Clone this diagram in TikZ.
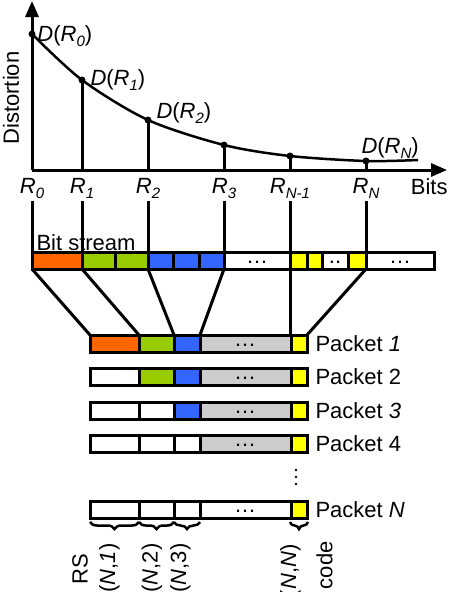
\documentclass[tikz,border=0pt]{standalone}
\usepackage{fontspec}
\setmainfont{Liberation Sans}
\usetikzlibrary{arrows.meta,decorations.pathreplacing}
\definecolor{segorange}{RGB}{255,102,0}
\definecolor{seggreen}{RGB}{153,204,0}
\definecolor{segblue}{RGB}{51,102,255}
\definecolor{segyellow}{RGB}{255,255,0}
\definecolor{seggray}{RGB}{204,204,204}
\newcommand{\Rsub}[1]{\textit{R}\raisebox{-5pt}{\fontsize{15}{15}\selectfont\textit{#1}}}
\newcommand{\Dof}[1]{\textit{D}(\Rsub{#1})}
\tikzset{
  cell/.style={draw=black,line width=3pt},
  axis/.style={line width=3pt,-{Triangle[length=16pt,width=13pt]}},
  lbl/.style={inner sep=0pt},
  rs/.style={rotate=90,anchor=east,inner sep=0pt},
  brc/.style={decorate,decoration={brace,mirror,amplitude=7pt},line width=2.5pt}
}
\begin{document}
\begin{tikzpicture}[x=1pt,y=-1pt,line width=3pt,font=\fontsize{22}{26}\selectfont]
	\useasboundingbox (0,0) rectangle (450,592);
	% rate-distortion curve
	\draw[axis] (32,170) -- (32,1);
	\draw[axis] (32,170) -- (447,170);
	\node[lbl,rotate=90] (ylab) at (11,98) {Distortion};
	\node[lbl,anchor=north east] (xlab) at (449,177) {Bits};
	\foreach \n/\x/\y/\s in {0/32/34/0,1/82/80/1,2/148/120/2,3/224/145/3,4/290/156/N-1,5/366/161/N}{
		\coordinate (D\n) at (\x,\y);
		\coordinate (R\n) at (\x,170);
		\node[lbl,anchor=north] (r\n) at (\x,177) {\Rsub{\s}};
	}
	\draw[line width=2.5pt] plot[smooth] coordinates {(D0) (D1) (D2) (D3) (D4) (D5) (418,160)};
	\foreach \n in {1,...,5} \draw (D\n) -- (R\n);
	\foreach \n in {0,...,5} \fill (D\n) circle (3.5pt);
	\node[lbl,anchor=west] (d0) at (36,36) {\Dof{0}};
	\node[lbl,anchor=west] (d1) at (89,80) {\Dof{1}};
	\node[lbl,anchor=west] (d2) at (155,113) {\Dof{2}};
	\node[lbl,anchor=west] (dN) at (360,148) {\Dof{N}};
	% bit stream
	\node[lbl,anchor=base west] (bits) at (35,250) {Bit stream};
	\foreach \x in {32,82,148,224,366} \draw (\x,201) -- (\x,252);
	\draw (290,201) -- (290,335);
	\foreach \a/\b/\c in {32/82/segorange,82/115/seggreen,115/148/seggreen,148/173/segblue,173/199/segblue,199/224/segblue,224/290/white,290/307/segyellow,307/322/segyellow,322/348/white,348/366/segyellow,366/434/white}
		\draw[cell,fill=\c] (\a,252) rectangle (\b,269);
	\node[lbl,anchor=base] at (257,263) {\dots};
	\node[lbl,anchor=base] at (335,263) {..};
	\node[lbl,anchor=base] at (400,263) {\dots};
	% split into packets
	\foreach \a/\b in {32/90,82/139,148/174,224/200,366/307} \draw (\a,269) -- (\b,335);
	\foreach \y/\ca/\cb/\cc/\cd/\lab in {335/segorange/seggreen/segblue/seggray/{Packet \textit{1}},
			368/white/seggreen/segblue/seggray/{Packet 2},
			402/white/white/segblue/seggray/{Packet \textit{3}},
			435/white/white/white/seggray/{Packet 4},
			501/white/white/white/white/{Packet \textit{N}}}{
		\draw[cell,fill=\ca] (90,\y) rectangle (139,\y+17);
		\draw[cell,fill=\cb] (139,\y) rectangle (174,\y+17);
		\draw[cell,fill=\cc] (174,\y) rectangle (200,\y+17);
		\draw[cell,fill=\cd] (200,\y) rectangle (291,\y+17);
		\draw[cell,fill=segyellow] (291,\y) rectangle (307,\y+17);
		\node[lbl,anchor=base] at (245,\y+11) {\dots};
		\node[lbl,anchor=west] at (314,\y+8.5) {\lab};
	}
	\foreach \v in {470,477,484} \fill (296,\v) circle (1.3pt);
	% RS codes
	\foreach \a/\b in {90/139,139/174,174/200,290/308} \draw[brc] (\a,522) -- (\b,522);
	\node[rs] (rsl) at (80,552) {RS};
	\node[rs] (n1) at (109.5,542) {(\textit{N},\textit{1})};
	\node[rs] (n2) at (152,542) {(\textit{N},2)};
	\node[rs] (n3) at (180.5,542) {(\textit{N},3)};
	\node[rs] (nN) at (290.5,543) {(\textit{N},\textit{N})};
	\node[rs] (code) at (324.5,540) {code};
\end{tikzpicture}
\end{document}
